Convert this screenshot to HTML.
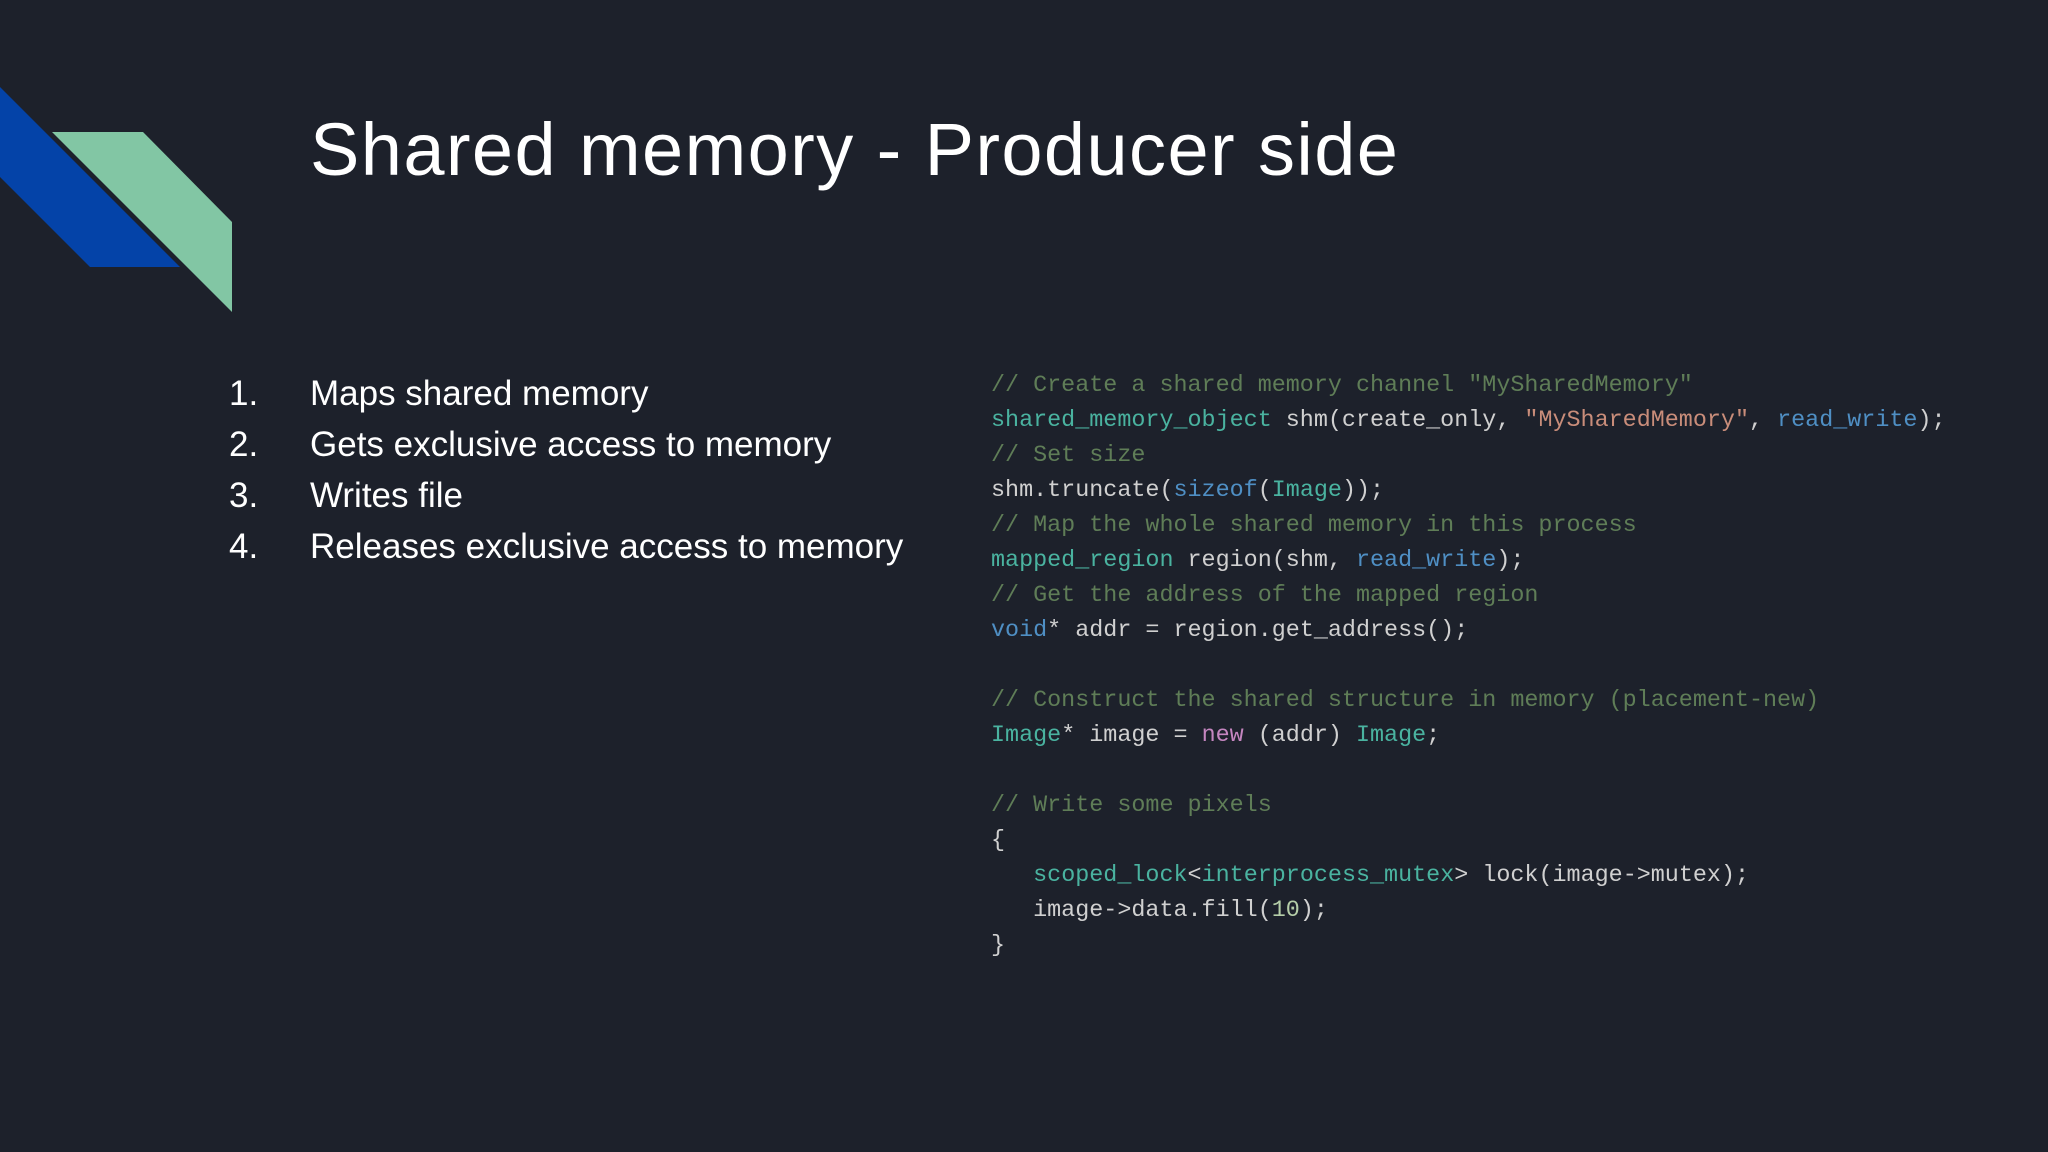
<!DOCTYPE html>
<html><head><meta charset="utf-8"><style>
html,body{margin:0;padding:0}
body{width:2048px;height:1152px;background:#1d212b;position:relative;overflow:hidden;font-family:"Liberation Sans",sans-serif}
.t{position:absolute;left:310px;top:100px;font-size:74px;color:#fff;white-space:nowrap;line-height:100px;letter-spacing:1.4px}
.li{position:absolute;color:#fff;font-size:35px;line-height:50px;white-space:nowrap}
.n{left:229px}.x{left:310px}
.c{position:absolute;left:991px;font-family:"Liberation Mono",monospace;font-size:23.4px;line-height:35px;color:#d0d0d0;white-space:pre}
.cm{color:#5f7d57}.ty{color:#4ab3a0}.st{color:#c98d7a}.kw{color:#4f8fc4}.nw{color:#c586c0}.nm{color:#b5cea8}
</style></head><body>
<svg width="260" height="330" style="position:absolute;left:0;top:0">
<polygon points="0,87 180,267 90,267 0,177" fill="#0443a8"/>
<polygon points="52,132 143,132 232,222 232,312" fill="#82c6a4"/>
</svg>
<div class="t">Shared memory - Producer side</div>
<div class="li n" style="top:369px">1.</div><div class="li x" style="top:369px">Maps shared memory</div>
<div class="li n" style="top:420px">2.</div><div class="li x" style="top:420px">Gets exclusive access to memory</div>
<div class="li n" style="top:471px">3.</div><div class="li x" style="top:471px">Writes file</div>
<div class="li n" style="top:522px">4.</div><div class="li x" style="top:522px">Releases exclusive access to memory</div>
<div class="c" style="top:369px"><span class="cm">// Create a shared memory channel "MySharedMemory"</span>
<span class="ty">shared_memory_object</span> shm(create_only, <span class="st">"MySharedMemory"</span>, <span class="kw">read_write</span>);
<span class="cm">// Set size</span>
shm.truncate(<span class="kw">sizeof</span>(<span class="ty">Image</span>));
<span class="cm">// Map the whole shared memory in this process</span>
<span class="ty">mapped_region</span> region(shm, <span class="kw">read_write</span>);
<span class="cm">// Get the address of the mapped region</span>
<span class="kw">void</span>* addr = region.get_address();

<span class="cm">// Construct the shared structure in memory (placement-new)</span>
<span class="ty">Image</span>* image = <span class="nw">new</span> (addr) <span class="ty">Image</span>;

<span class="cm">// Write some pixels</span>
{
   <span class="ty">scoped_lock</span>&lt;<span class="ty">interprocess_mutex</span>&gt; lock(image-&gt;mutex);
   image-&gt;data.fill(<span class="nm">10</span>);
}</div>
</body></html>
